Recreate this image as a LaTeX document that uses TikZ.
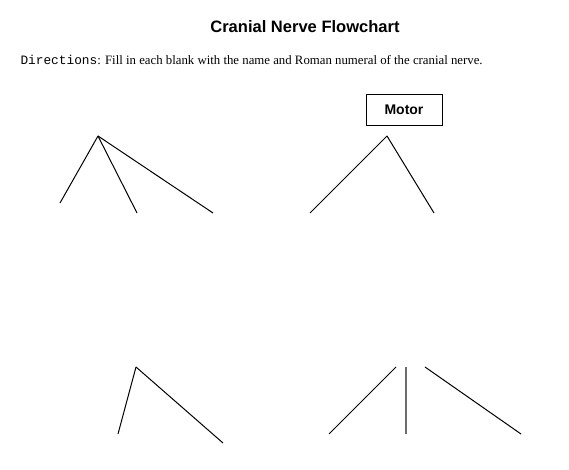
\documentclass[tikz,border=0pt]{standalone}
\usepackage{fontspec}
\setmainfont{Liberation Serif}
\setsansfont{Liberation Sans}
\setmonofont{Liberation Mono}
\usetikzlibrary{positioning}

\begin{document}
\begin{tikzpicture}[x=0.75pt, y=-0.75pt, -, line width=0.75pt,
                    main/.style = {inner sep=0pt, outer sep=0pt},
                    box/.style = {draw, line width=0.75pt, minimum width=57pt, minimum height=23pt, font=\sffamily\bfseries\fontsize{10.5}{12}\selectfont}]
\useasboundingbox (0,0) rectangle (569,470);
\node[font=\sffamily\bfseries\fontsize{12.4}{14}\selectfont] (title) at (305,27) {Cranial Nerve Flowchart};
\node[anchor=west, inner sep=0pt, font=\fontsize{9.6}{11}\selectfont] (dir) at (20,60) {{\ttfamily Directions}: Fill in each blank with the name and Roman numeral of the cranial nerve.};
\node[box] (motor) at (404,110) {Motor};
% top left
\coordinate (a) at (98,136);
\coordinate (a1) at (60,203);
\coordinate (a2) at (137,213);
\coordinate (a3) at (213,213);
% top right
\coordinate (b) at (387,136);
\coordinate (b1) at (310,213);
\coordinate (b2) at (434,213);
% bottom left
\coordinate (c) at (136,367);
\coordinate (c1) at (118,434);
\coordinate (c2) at (223,443);
% bottom right
\coordinate (d1) at (396,367);
\coordinate (d2) at (329,434);
\coordinate (d3) at (406,367);
\coordinate (d4) at (406,434);
\coordinate (d5) at (425,367);
\coordinate (d6) at (521,434);
    \path
(a) edge (a1)
(a) edge (a2)
(a) edge (a3)
(b) edge (b1)
(b) edge (b2)
(c) edge (c1)
(c) edge (c2)
(d1) edge (d2)
(d3) edge[gray!85!black, line width=1.3pt] (d4)
(d5) edge (d6);
\end{tikzpicture}
\end{document}
